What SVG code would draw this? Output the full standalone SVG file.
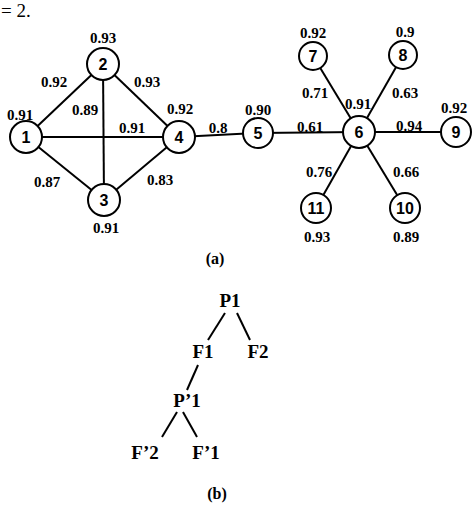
<svg xmlns="http://www.w3.org/2000/svg" width="474" height="527" viewBox="0 0 474 527">
<style>
.e{stroke:#000;stroke-width:2;fill:none}
.n circle{fill:#fff;stroke:#000;stroke-width:2}
.n text{font-family:"Liberation Sans",Arial,sans-serif;font-weight:bold;font-size:16px;text-anchor:middle}
.w{font-family:"Liberation Serif","Times New Roman",serif;font-weight:bold;font-size:15px;text-anchor:middle}
.t{font-family:"Liberation Serif","Times New Roman",serif;font-weight:bold;font-size:19px;text-anchor:middle}
.c{font-family:"Liberation Serif","Times New Roman",serif;font-weight:bold;font-size:16px;text-anchor:middle}
</style>
<rect width="474" height="527" fill="#fff"/>
<text x="1" y="17" font-family="Liberation Serif,serif" font-size="19">= 2.</text>
<g id="connectors">
<line class="e" x1="26" y1="137" x2="103" y2="64"/>
<line class="e" x1="26" y1="137" x2="179" y2="137"/>
<line class="e" x1="26" y1="137" x2="104" y2="200"/>
<line class="e" x1="103" y1="64" x2="104" y2="200"/>
<line class="e" x1="103" y1="64" x2="179" y2="137"/>
<line class="e" x1="104" y1="200" x2="179" y2="137"/>
<line class="e" x1="179" y1="137" x2="258" y2="133"/>
<line class="e" x1="258" y1="133" x2="359" y2="132"/>
<line class="e" x1="359" y1="132" x2="313" y2="56"/>
<line class="e" x1="359" y1="132" x2="403" y2="55"/>
<line class="e" x1="359" y1="132" x2="456" y2="132"/>
<line class="e" x1="359" y1="132" x2="405" y2="208"/>
<line class="e" x1="359" y1="132" x2="316" y2="208"/>
<line class="e" x1="225" y1="313" x2="208" y2="340"/>
<line class="e" x1="237" y1="313" x2="250" y2="340"/>
<line class="e" x1="198" y1="365" x2="187" y2="390"/>
<line class="e" x1="177" y1="412" x2="162" y2="437"/>
<line class="e" x1="183" y1="412" x2="197" y2="437"/>
</g>
<g id="node1" class="n"><circle cx="26" cy="137" r="16"/><text x="26" y="143">1</text></g>
<g id="node2" class="n"><circle cx="103" cy="64" r="16"/><text x="103" y="70">2</text></g>
<g id="node3" class="n"><circle cx="104" cy="200" r="16"/><text x="104" y="206">3</text></g>
<g id="node4" class="n"><circle cx="179" cy="137" r="16"/><text x="179" y="143">4</text></g>
<g id="node5" class="n"><circle cx="258" cy="133" r="15"/><text x="258" y="139">5</text></g>
<g id="node6" class="n"><circle cx="359" cy="132" r="16"/><text x="359" y="138">6</text></g>
<g id="node7" class="n"><circle cx="313" cy="56" r="14"/><text x="313" y="62">7</text></g>
<g id="node8" class="n"><circle cx="403" cy="55" r="14"/><text x="403" y="61">8</text></g>
<g id="node9" class="n"><circle cx="456" cy="132" r="15"/><text x="456" y="138">9</text></g>
<g id="node10" class="n"><circle cx="405" cy="208" r="15"/><text x="405" y="214">10</text></g>
<g id="node11" class="n"><circle cx="316" cy="208" r="15"/><text x="316" y="214">11</text></g>
<g id="labels">
<text class="w" x="103" y="43">0.93</text>
<text class="w" x="54" y="87">0.92</text>
<text class="w" x="147" y="87">0.93</text>
<text class="w" x="85" y="115">0.89</text>
<text class="w" x="20" y="120">0.91</text>
<text class="w" x="180" y="114">0.92</text>
<text class="w" x="132" y="133">0.91</text>
<text class="w" x="218" y="133">0.8</text>
<text class="w" x="47" y="187">0.87</text>
<text class="w" x="160" y="185">0.83</text>
<text class="w" x="106" y="233">0.91</text>
<text class="w" x="258" y="115">0.90</text>
<text class="w" x="310" y="132">0.61</text>
<text class="w" x="313" y="38">0.92</text>
<text class="w" x="405" y="37">0.9</text>
<text class="w" x="315" y="98">0.71</text>
<text class="w" x="358" y="109">0.91</text>
<text class="w" x="405" y="98">0.63</text>
<text class="w" x="454" y="113">0.92</text>
<text class="w" x="409" y="131">0.94</text>
<text class="w" x="319" y="177">0.76</text>
<text class="w" x="406" y="177">0.66</text>
<text class="w" x="317" y="242">0.93</text>
<text class="w" x="406" y="242">0.89</text>
<text class="c" x="215" y="264">(a)</text>
</g>
<g id="P1"><text class="t" x="230" y="307">P1</text></g>
<g id="F1"><text class="t" x="203" y="358">F1</text></g>
<g id="F2"><text class="t" x="258" y="358">F2</text></g>
<g id="Pp1"><text class="t" x="187" y="407">P’1</text></g>
<g id="Fp2"><text class="t" x="145" y="459">F’2</text></g>
<g id="Fp1"><text class="t" x="206" y="459">F’1</text></g>
<text class="c" x="217" y="499">(b)</text>
</svg>
